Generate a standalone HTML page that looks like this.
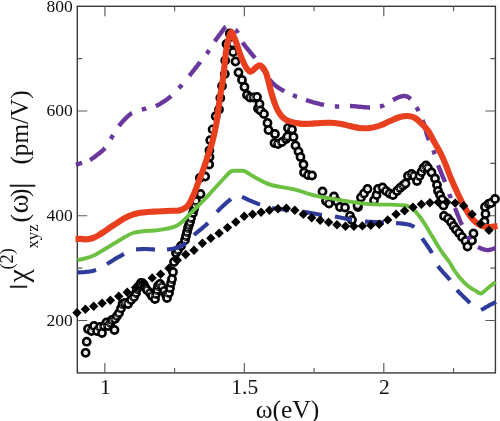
<!DOCTYPE html>
<html lang="en"><head><meta charset="utf-8"><title>chi2 spectrum</title>
<style>html,body{margin:0;padding:0;background:#fff}svg{display:block}text{font-family:"Liberation Serif","DejaVu Serif",serif;fill:#111}</style></head><body>
<svg width="500" height="421" viewBox="0 0 500 421">
<rect width="500" height="421" fill="#fff"/>
<g fill="none" stroke="#3a3a3a" stroke-width="1.4">
<rect x="77.30" y="6.30" width="418.10" height="366.60"/>
<path d="M104.90,372.90v-10M104.90,6.30v10M244.35,372.90v-10M244.35,6.30v10M383.80,372.90v-10M383.80,6.30v10M174.62,372.90v-5M174.62,6.30v5M314.07,372.90v-5M314.07,6.30v5M453.52,372.90v-5M453.52,6.30v5M77.30,320.53h10M495.40,320.53h-10M77.30,215.79h10M495.40,215.79h-10M77.30,111.04h10M495.40,111.04h-10M77.30,268.16h5M495.40,268.16h-5M77.30,163.41h5M495.40,163.41h-5M77.30,58.67h5M495.40,58.67h-5" stroke="#5a5a5a" stroke-width="1.15"/>
</g>
<g fill="#fff" stroke="#000" stroke-width="2.6">
<circle cx="85.6" cy="352.8" r="3.6"/>
<circle cx="86.7" cy="341.7" r="3.6"/>
<circle cx="88.0" cy="329.0" r="3.6"/>
<circle cx="91.5" cy="331.0" r="3.6"/>
<circle cx="94.0" cy="326.0" r="3.6"/>
<circle cx="97.0" cy="331.0" r="3.6"/>
<circle cx="100.0" cy="327.0" r="3.6"/>
<circle cx="102.0" cy="333.0" r="3.6"/>
<circle cx="104.0" cy="326.0" r="3.6"/>
<circle cx="106.5" cy="322.5" r="3.6"/>
<circle cx="108.0" cy="326.0" r="3.6"/>
<circle cx="110.5" cy="323.0" r="3.6"/>
<circle cx="112.0" cy="320.0" r="3.6"/>
<circle cx="114.5" cy="330.0" r="3.6"/>
<circle cx="115.0" cy="319.0" r="3.6"/>
<circle cx="117.0" cy="316.0" r="3.6"/>
<circle cx="119.0" cy="313.0" r="3.6"/>
<circle cx="121.0" cy="308.5" r="3.6"/>
<circle cx="122.5" cy="304.0" r="3.6"/>
<circle cx="125.0" cy="303.0" r="3.6"/>
<circle cx="128.0" cy="304.0" r="3.6"/>
<circle cx="131.0" cy="300.0" r="3.6"/>
<circle cx="134.0" cy="297.0" r="3.6"/>
<circle cx="136.0" cy="293.0" r="3.6"/>
<circle cx="137.0" cy="289.0" r="3.6"/>
<circle cx="139.0" cy="286.0" r="3.6"/>
<circle cx="141.0" cy="283.0" r="3.6"/>
<circle cx="143.0" cy="284.0" r="3.6"/>
<circle cx="145.0" cy="287.0" r="3.6"/>
<circle cx="147.0" cy="290.0" r="3.6"/>
<circle cx="150.0" cy="293.0" r="3.6"/>
<circle cx="152.0" cy="296.0" r="3.6"/>
<circle cx="155.0" cy="299.0" r="3.6"/>
<circle cx="156.0" cy="294.0" r="3.6"/>
<circle cx="157.0" cy="290.0" r="3.6"/>
<circle cx="158.0" cy="286.0" r="3.6"/>
<circle cx="160.0" cy="284.0" r="3.6"/>
<circle cx="162.0" cy="287.0" r="3.6"/>
<circle cx="164.0" cy="291.0" r="3.6"/>
<circle cx="166.0" cy="295.0" r="3.6"/>
<circle cx="167.0" cy="298.0" r="3.6"/>
<circle cx="169.0" cy="293.0" r="3.6"/>
<circle cx="170.0" cy="288.0" r="3.6"/>
<circle cx="171.0" cy="283.0" r="3.6"/>
<circle cx="172.0" cy="279.0" r="3.6"/>
<circle cx="173.0" cy="272.0" r="3.6"/>
<circle cx="174.0" cy="262.0" r="3.6"/>
<circle cx="176.0" cy="253.0" r="3.6"/>
<circle cx="178.0" cy="250.0" r="3.6"/>
<circle cx="181.0" cy="246.0" r="3.6"/>
<circle cx="185.0" cy="240.0" r="3.6"/>
<circle cx="186.0" cy="236.0" r="3.6"/>
<circle cx="187.0" cy="232.0" r="3.6"/>
<circle cx="188.0" cy="228.0" r="3.6"/>
<circle cx="189.0" cy="225.0" r="3.6"/>
<circle cx="190.0" cy="222.0" r="3.6"/>
<circle cx="191.0" cy="218.0" r="3.6"/>
<circle cx="193.0" cy="213.0" r="3.6"/>
<circle cx="194.0" cy="209.0" r="3.6"/>
<circle cx="195.0" cy="205.0" r="3.6"/>
<circle cx="196.0" cy="201.0" r="3.6"/>
<circle cx="200.5" cy="194.0" r="3.6"/>
<circle cx="199.8" cy="178.0" r="3.6"/>
<circle cx="205.2" cy="176.5" r="3.6"/>
<circle cx="209.2" cy="164.5" r="3.6"/>
<circle cx="209.5" cy="157.0" r="3.6"/>
<circle cx="209.4" cy="150.4" r="3.6"/>
<circle cx="210.2" cy="140.2" r="3.6"/>
<circle cx="212.6" cy="129.4" r="3.6"/>
<circle cx="215.7" cy="116.2" r="3.6"/>
<circle cx="219.0" cy="109.5" r="3.6"/>
<circle cx="220.3" cy="98.0" r="3.6"/>
<circle cx="222.0" cy="86.0" r="3.6"/>
<circle cx="224.8" cy="74.0" r="3.6"/>
<circle cx="225.2" cy="60.5" r="3.6"/>
<circle cx="226.5" cy="44.0" r="3.6"/>
<circle cx="229.8" cy="33.5" r="3.6"/>
<circle cx="232.6" cy="43.5" r="3.6"/>
<circle cx="233.1" cy="52.1" r="3.6"/>
<circle cx="235.5" cy="61.5" r="3.6"/>
<circle cx="238.5" cy="72.5" r="3.6"/>
<circle cx="242.0" cy="80.0" r="3.6"/>
<circle cx="244.5" cy="87.0" r="3.6"/>
<circle cx="247.0" cy="95.0" r="3.6"/>
<circle cx="250.0" cy="97.5" r="3.6"/>
<circle cx="253.5" cy="97.5" r="3.6"/>
<circle cx="257.0" cy="97.0" r="3.6"/>
<circle cx="258.0" cy="108.5" r="3.6"/>
<circle cx="259.5" cy="104.0" r="3.6"/>
<circle cx="260.5" cy="110.5" r="3.6"/>
<circle cx="264.0" cy="114.0" r="3.6"/>
<circle cx="267.5" cy="123.0" r="3.6"/>
<circle cx="268.5" cy="130.0" r="3.6"/>
<circle cx="275.0" cy="134.0" r="3.6"/>
<circle cx="274.5" cy="143.0" r="3.6"/>
<circle cx="278.0" cy="144.0" r="3.6"/>
<circle cx="282.0" cy="142.0" r="3.6"/>
<circle cx="286.0" cy="139.0" r="3.6"/>
<circle cx="287.5" cy="136.5" r="3.6"/>
<circle cx="288.0" cy="128.0" r="3.6"/>
<circle cx="292.0" cy="129.5" r="3.6"/>
<circle cx="293.5" cy="137.0" r="3.6"/>
<circle cx="295.5" cy="145.5" r="3.6"/>
<circle cx="298.5" cy="151.5" r="3.6"/>
<circle cx="300.5" cy="157.0" r="3.6"/>
<circle cx="303.5" cy="164.5" r="3.6"/>
<circle cx="304.0" cy="172.5" r="3.6"/>
<circle cx="308.0" cy="175.0" r="3.6"/>
<circle cx="312.0" cy="175.5" r="3.6"/>
<circle cx="322.5" cy="191.5" r="3.6"/>
<circle cx="326.0" cy="201.0" r="3.6"/>
<circle cx="329.0" cy="203.5" r="3.6"/>
<circle cx="334.0" cy="196.5" r="3.6"/>
<circle cx="337.0" cy="201.5" r="3.6"/>
<circle cx="340.0" cy="207.0" r="3.6"/>
<circle cx="345.0" cy="207.5" r="3.6"/>
<circle cx="350.0" cy="216.0" r="3.6"/>
<circle cx="352.0" cy="220.0" r="3.6"/>
<circle cx="358.0" cy="207.0" r="3.6"/>
<circle cx="357.5" cy="205.5" r="3.6"/>
<circle cx="361.0" cy="197.5" r="3.6"/>
<circle cx="364.0" cy="193.5" r="3.6"/>
<circle cx="367.5" cy="189.0" r="3.6"/>
<circle cx="374.0" cy="200.5" r="3.6"/>
<circle cx="376.5" cy="195.0" r="3.6"/>
<circle cx="378.0" cy="189.0" r="3.6"/>
<circle cx="382.5" cy="187.5" r="3.6"/>
<circle cx="386.0" cy="191.0" r="3.6"/>
<circle cx="389.5" cy="193.5" r="3.6"/>
<circle cx="393.0" cy="195.0" r="3.6"/>
<circle cx="397.0" cy="191.0" r="3.6"/>
<circle cx="400.0" cy="188.0" r="3.6"/>
<circle cx="403.0" cy="185.5" r="3.6"/>
<circle cx="405.5" cy="183.5" r="3.6"/>
<circle cx="408.0" cy="176.0" r="3.6"/>
<circle cx="411.5" cy="174.0" r="3.6"/>
<circle cx="414.0" cy="176.0" r="3.6"/>
<circle cx="417.0" cy="181.0" r="3.6"/>
<circle cx="419.5" cy="176.0" r="3.6"/>
<circle cx="421.5" cy="172.0" r="3.6"/>
<circle cx="423.5" cy="168.0" r="3.6"/>
<circle cx="426.0" cy="165.5" r="3.6"/>
<circle cx="428.0" cy="168.0" r="3.6"/>
<circle cx="431.5" cy="172.5" r="3.6"/>
<circle cx="435.0" cy="178.5" r="3.6"/>
<circle cx="437.0" cy="185.0" r="3.6"/>
<circle cx="438.0" cy="191.0" r="3.6"/>
<circle cx="440.0" cy="195.0" r="3.6"/>
<circle cx="442.0" cy="199.5" r="3.6"/>
<circle cx="443.5" cy="205.5" r="3.6"/>
<circle cx="444.0" cy="216.0" r="3.6"/>
<circle cx="448.0" cy="218.5" r="3.6"/>
<circle cx="451.0" cy="222.0" r="3.6"/>
<circle cx="453.5" cy="226.0" r="3.6"/>
<circle cx="456.0" cy="229.5" r="3.6"/>
<circle cx="459.0" cy="233.0" r="3.6"/>
<circle cx="462.0" cy="237.0" r="3.6"/>
<circle cx="465.5" cy="241.0" r="3.6"/>
<circle cx="467.5" cy="246.5" r="3.6"/>
<circle cx="472.0" cy="240.5" r="3.6"/>
<circle cx="473.5" cy="233.5" r="3.6"/>
<circle cx="484.5" cy="221.5" r="3.6"/>
<circle cx="485.5" cy="214.0" r="3.6"/>
<circle cx="485.0" cy="207.0" r="3.6"/>
<circle cx="488.5" cy="204.0" r="3.6"/>
<circle cx="491.0" cy="203.0" r="3.6"/>
<circle cx="495.0" cy="199.0" r="3.6"/>
</g>
<g fill="#b5b5b5">
<path d="M84.3,352.0h.8v.8h-.8zm1.7,-.3h.8v.8h-.8zm-.9,1.6h.8v.8h-.8zm-.2,-2.9h.7v.7h-.7z"/>
<path d="M85.4,340.9h.8v.8h-.8zm1.7,-.3h.8v.8h-.8zm-.9,1.6h.8v.8h-.8zm-.2,-2.9h.7v.7h-.7z"/>
<path d="M86.7,328.2h.8v.8h-.8zm1.7,-.3h.8v.8h-.8zm-.9,1.6h.8v.8h-.8zm-.2,-2.9h.7v.7h-.7z"/>
<path d="M90.2,330.2h.8v.8h-.8zm1.7,-.3h.8v.8h-.8zm-.9,1.6h.8v.8h-.8zm-.2,-2.9h.7v.7h-.7z"/>
<path d="M92.7,325.2h.8v.8h-.8zm1.7,-.3h.8v.8h-.8zm-.9,1.6h.8v.8h-.8zm-.2,-2.9h.7v.7h-.7z"/>
<path d="M95.7,330.2h.8v.8h-.8zm1.7,-.3h.8v.8h-.8zm-.9,1.6h.8v.8h-.8zm-.2,-2.9h.7v.7h-.7z"/>
<path d="M98.7,326.2h.8v.8h-.8zm1.7,-.3h.8v.8h-.8zm-.9,1.6h.8v.8h-.8zm-.2,-2.9h.7v.7h-.7z"/>
<path d="M100.7,332.2h.8v.8h-.8zm1.7,-.3h.8v.8h-.8zm-.9,1.6h.8v.8h-.8zm-.2,-2.9h.7v.7h-.7z"/>
<path d="M102.7,325.2h.8v.8h-.8zm1.7,-.3h.8v.8h-.8zm-.9,1.6h.8v.8h-.8zm-.2,-2.9h.7v.7h-.7z"/>
<path d="M105.2,321.7h.8v.8h-.8zm1.7,-.3h.8v.8h-.8zm-.9,1.6h.8v.8h-.8zm-.2,-2.9h.7v.7h-.7z"/>
<path d="M106.7,325.2h.8v.8h-.8zm1.7,-.3h.8v.8h-.8zm-.9,1.6h.8v.8h-.8zm-.2,-2.9h.7v.7h-.7z"/>
<path d="M109.2,322.2h.8v.8h-.8zm1.7,-.3h.8v.8h-.8zm-.9,1.6h.8v.8h-.8zm-.2,-2.9h.7v.7h-.7z"/>
<path d="M110.7,319.2h.8v.8h-.8zm1.7,-.3h.8v.8h-.8zm-.9,1.6h.8v.8h-.8zm-.2,-2.9h.7v.7h-.7z"/>
<path d="M113.2,329.2h.8v.8h-.8zm1.7,-.3h.8v.8h-.8zm-.9,1.6h.8v.8h-.8zm-.2,-2.9h.7v.7h-.7z"/>
<path d="M113.7,318.2h.8v.8h-.8zm1.7,-.3h.8v.8h-.8zm-.9,1.6h.8v.8h-.8zm-.2,-2.9h.7v.7h-.7z"/>
<path d="M115.7,315.2h.8v.8h-.8zm1.7,-.3h.8v.8h-.8zm-.9,1.6h.8v.8h-.8zm-.2,-2.9h.7v.7h-.7z"/>
<path d="M117.7,312.2h.8v.8h-.8zm1.7,-.3h.8v.8h-.8zm-.9,1.6h.8v.8h-.8zm-.2,-2.9h.7v.7h-.7z"/>
<path d="M119.7,307.7h.8v.8h-.8zm1.7,-.3h.8v.8h-.8zm-.9,1.6h.8v.8h-.8zm-.2,-2.9h.7v.7h-.7z"/>
<path d="M121.2,303.2h.8v.8h-.8zm1.7,-.3h.8v.8h-.8zm-.9,1.6h.8v.8h-.8zm-.2,-2.9h.7v.7h-.7z"/>
<path d="M123.7,302.2h.8v.8h-.8zm1.7,-.3h.8v.8h-.8zm-.9,1.6h.8v.8h-.8zm-.2,-2.9h.7v.7h-.7z"/>
<path d="M126.7,303.2h.8v.8h-.8zm1.7,-.3h.8v.8h-.8zm-.9,1.6h.8v.8h-.8zm-.2,-2.9h.7v.7h-.7z"/>
<path d="M129.7,299.2h.8v.8h-.8zm1.7,-.3h.8v.8h-.8zm-.9,1.6h.8v.8h-.8zm-.2,-2.9h.7v.7h-.7z"/>
<path d="M132.7,296.2h.8v.8h-.8zm1.7,-.3h.8v.8h-.8zm-.9,1.6h.8v.8h-.8zm-.2,-2.9h.7v.7h-.7z"/>
<path d="M134.7,292.2h.8v.8h-.8zm1.7,-.3h.8v.8h-.8zm-.9,1.6h.8v.8h-.8zm-.2,-2.9h.7v.7h-.7z"/>
<path d="M135.7,288.2h.8v.8h-.8zm1.7,-.3h.8v.8h-.8zm-.9,1.6h.8v.8h-.8zm-.2,-2.9h.7v.7h-.7z"/>
<path d="M137.7,285.2h.8v.8h-.8zm1.7,-.3h.8v.8h-.8zm-.9,1.6h.8v.8h-.8zm-.2,-2.9h.7v.7h-.7z"/>
<path d="M139.7,282.2h.8v.8h-.8zm1.7,-.3h.8v.8h-.8zm-.9,1.6h.8v.8h-.8zm-.2,-2.9h.7v.7h-.7z"/>
<path d="M141.7,283.2h.8v.8h-.8zm1.7,-.3h.8v.8h-.8zm-.9,1.6h.8v.8h-.8zm-.2,-2.9h.7v.7h-.7z"/>
<path d="M143.7,286.2h.8v.8h-.8zm1.7,-.3h.8v.8h-.8zm-.9,1.6h.8v.8h-.8zm-.2,-2.9h.7v.7h-.7z"/>
<path d="M145.7,289.2h.8v.8h-.8zm1.7,-.3h.8v.8h-.8zm-.9,1.6h.8v.8h-.8zm-.2,-2.9h.7v.7h-.7z"/>
<path d="M148.7,292.2h.8v.8h-.8zm1.7,-.3h.8v.8h-.8zm-.9,1.6h.8v.8h-.8zm-.2,-2.9h.7v.7h-.7z"/>
<path d="M150.7,295.2h.8v.8h-.8zm1.7,-.3h.8v.8h-.8zm-.9,1.6h.8v.8h-.8zm-.2,-2.9h.7v.7h-.7z"/>
<path d="M153.7,298.2h.8v.8h-.8zm1.7,-.3h.8v.8h-.8zm-.9,1.6h.8v.8h-.8zm-.2,-2.9h.7v.7h-.7z"/>
<path d="M154.7,293.2h.8v.8h-.8zm1.7,-.3h.8v.8h-.8zm-.9,1.6h.8v.8h-.8zm-.2,-2.9h.7v.7h-.7z"/>
<path d="M155.7,289.2h.8v.8h-.8zm1.7,-.3h.8v.8h-.8zm-.9,1.6h.8v.8h-.8zm-.2,-2.9h.7v.7h-.7z"/>
<path d="M156.7,285.2h.8v.8h-.8zm1.7,-.3h.8v.8h-.8zm-.9,1.6h.8v.8h-.8zm-.2,-2.9h.7v.7h-.7z"/>
<path d="M158.7,283.2h.8v.8h-.8zm1.7,-.3h.8v.8h-.8zm-.9,1.6h.8v.8h-.8zm-.2,-2.9h.7v.7h-.7z"/>
<path d="M160.7,286.2h.8v.8h-.8zm1.7,-.3h.8v.8h-.8zm-.9,1.6h.8v.8h-.8zm-.2,-2.9h.7v.7h-.7z"/>
<path d="M162.7,290.2h.8v.8h-.8zm1.7,-.3h.8v.8h-.8zm-.9,1.6h.8v.8h-.8zm-.2,-2.9h.7v.7h-.7z"/>
<path d="M164.7,294.2h.8v.8h-.8zm1.7,-.3h.8v.8h-.8zm-.9,1.6h.8v.8h-.8zm-.2,-2.9h.7v.7h-.7z"/>
<path d="M165.7,297.2h.8v.8h-.8zm1.7,-.3h.8v.8h-.8zm-.9,1.6h.8v.8h-.8zm-.2,-2.9h.7v.7h-.7z"/>
<path d="M167.7,292.2h.8v.8h-.8zm1.7,-.3h.8v.8h-.8zm-.9,1.6h.8v.8h-.8zm-.2,-2.9h.7v.7h-.7z"/>
<path d="M168.7,287.2h.8v.8h-.8zm1.7,-.3h.8v.8h-.8zm-.9,1.6h.8v.8h-.8zm-.2,-2.9h.7v.7h-.7z"/>
<path d="M169.7,282.2h.8v.8h-.8zm1.7,-.3h.8v.8h-.8zm-.9,1.6h.8v.8h-.8zm-.2,-2.9h.7v.7h-.7z"/>
<path d="M170.7,278.2h.8v.8h-.8zm1.7,-.3h.8v.8h-.8zm-.9,1.6h.8v.8h-.8zm-.2,-2.9h.7v.7h-.7z"/>
<path d="M171.7,271.2h.8v.8h-.8zm1.7,-.3h.8v.8h-.8zm-.9,1.6h.8v.8h-.8zm-.2,-2.9h.7v.7h-.7z"/>
<path d="M172.7,261.2h.8v.8h-.8zm1.7,-.3h.8v.8h-.8zm-.9,1.6h.8v.8h-.8zm-.2,-2.9h.7v.7h-.7z"/>
<path d="M174.7,252.2h.8v.8h-.8zm1.7,-.3h.8v.8h-.8zm-.9,1.6h.8v.8h-.8zm-.2,-2.9h.7v.7h-.7z"/>
<path d="M176.7,249.2h.8v.8h-.8zm1.7,-.3h.8v.8h-.8zm-.9,1.6h.8v.8h-.8zm-.2,-2.9h.7v.7h-.7z"/>
<path d="M179.7,245.2h.8v.8h-.8zm1.7,-.3h.8v.8h-.8zm-.9,1.6h.8v.8h-.8zm-.2,-2.9h.7v.7h-.7z"/>
<path d="M183.7,239.2h.8v.8h-.8zm1.7,-.3h.8v.8h-.8zm-.9,1.6h.8v.8h-.8zm-.2,-2.9h.7v.7h-.7z"/>
<path d="M184.7,235.2h.8v.8h-.8zm1.7,-.3h.8v.8h-.8zm-.9,1.6h.8v.8h-.8zm-.2,-2.9h.7v.7h-.7z"/>
<path d="M185.7,231.2h.8v.8h-.8zm1.7,-.3h.8v.8h-.8zm-.9,1.6h.8v.8h-.8zm-.2,-2.9h.7v.7h-.7z"/>
<path d="M186.7,227.2h.8v.8h-.8zm1.7,-.3h.8v.8h-.8zm-.9,1.6h.8v.8h-.8zm-.2,-2.9h.7v.7h-.7z"/>
<path d="M187.7,224.2h.8v.8h-.8zm1.7,-.3h.8v.8h-.8zm-.9,1.6h.8v.8h-.8zm-.2,-2.9h.7v.7h-.7z"/>
<path d="M188.7,221.2h.8v.8h-.8zm1.7,-.3h.8v.8h-.8zm-.9,1.6h.8v.8h-.8zm-.2,-2.9h.7v.7h-.7z"/>
<path d="M189.7,217.2h.8v.8h-.8zm1.7,-.3h.8v.8h-.8zm-.9,1.6h.8v.8h-.8zm-.2,-2.9h.7v.7h-.7z"/>
<path d="M191.7,212.2h.8v.8h-.8zm1.7,-.3h.8v.8h-.8zm-.9,1.6h.8v.8h-.8zm-.2,-2.9h.7v.7h-.7z"/>
<path d="M192.7,208.2h.8v.8h-.8zm1.7,-.3h.8v.8h-.8zm-.9,1.6h.8v.8h-.8zm-.2,-2.9h.7v.7h-.7z"/>
<path d="M193.7,204.2h.8v.8h-.8zm1.7,-.3h.8v.8h-.8zm-.9,1.6h.8v.8h-.8zm-.2,-2.9h.7v.7h-.7z"/>
<path d="M194.7,200.2h.8v.8h-.8zm1.7,-.3h.8v.8h-.8zm-.9,1.6h.8v.8h-.8zm-.2,-2.9h.7v.7h-.7z"/>
<path d="M199.2,193.2h.8v.8h-.8zm1.7,-.3h.8v.8h-.8zm-.9,1.6h.8v.8h-.8zm-.2,-2.9h.7v.7h-.7z"/>
<path d="M198.5,177.2h.8v.8h-.8zm1.7,-.3h.8v.8h-.8zm-.9,1.6h.8v.8h-.8zm-.2,-2.9h.7v.7h-.7z"/>
<path d="M203.9,175.7h.8v.8h-.8zm1.7,-.3h.8v.8h-.8zm-.9,1.6h.8v.8h-.8zm-.2,-2.9h.7v.7h-.7z"/>
<path d="M207.9,163.7h.8v.8h-.8zm1.7,-.3h.8v.8h-.8zm-.9,1.6h.8v.8h-.8zm-.2,-2.9h.7v.7h-.7z"/>
<path d="M208.2,156.2h.8v.8h-.8zm1.7,-.3h.8v.8h-.8zm-.9,1.6h.8v.8h-.8zm-.2,-2.9h.7v.7h-.7z"/>
<path d="M208.1,149.6h.8v.8h-.8zm1.7,-.3h.8v.8h-.8zm-.9,1.6h.8v.8h-.8zm-.2,-2.9h.7v.7h-.7z"/>
<path d="M208.9,139.4h.8v.8h-.8zm1.7,-.3h.8v.8h-.8zm-.9,1.6h.8v.8h-.8zm-.2,-2.9h.7v.7h-.7z"/>
<path d="M211.3,128.6h.8v.8h-.8zm1.7,-.3h.8v.8h-.8zm-.9,1.6h.8v.8h-.8zm-.2,-2.9h.7v.7h-.7z"/>
<path d="M214.4,115.4h.8v.8h-.8zm1.7,-.3h.8v.8h-.8zm-.9,1.6h.8v.8h-.8zm-.2,-2.9h.7v.7h-.7z"/>
<path d="M217.7,108.7h.8v.8h-.8zm1.7,-.3h.8v.8h-.8zm-.9,1.6h.8v.8h-.8zm-.2,-2.9h.7v.7h-.7z"/>
<path d="M219.0,97.2h.8v.8h-.8zm1.7,-.3h.8v.8h-.8zm-.9,1.6h.8v.8h-.8zm-.2,-2.9h.7v.7h-.7z"/>
<path d="M220.7,85.2h.8v.8h-.8zm1.7,-.3h.8v.8h-.8zm-.9,1.6h.8v.8h-.8zm-.2,-2.9h.7v.7h-.7z"/>
<path d="M223.4,73.2h.8v.8h-.8zm1.7,-.3h.8v.8h-.8zm-.9,1.6h.8v.8h-.8zm-.2,-2.9h.7v.7h-.7z"/>
<path d="M223.9,59.7h.8v.8h-.8zm1.7,-.3h.8v.8h-.8zm-.9,1.6h.8v.8h-.8zm-.2,-2.9h.7v.7h-.7z"/>
<path d="M225.2,43.2h.8v.8h-.8zm1.7,-.3h.8v.8h-.8zm-.9,1.6h.8v.8h-.8zm-.2,-2.9h.7v.7h-.7z"/>
<path d="M228.5,32.7h.8v.8h-.8zm1.7,-.3h.8v.8h-.8zm-.9,1.6h.8v.8h-.8zm-.2,-2.9h.7v.7h-.7z"/>
<path d="M231.3,42.7h.8v.8h-.8zm1.7,-.3h.8v.8h-.8zm-.9,1.6h.8v.8h-.8zm-.2,-2.9h.7v.7h-.7z"/>
<path d="M231.8,51.3h.8v.8h-.8zm1.7,-.3h.8v.8h-.8zm-.9,1.6h.8v.8h-.8zm-.2,-2.9h.7v.7h-.7z"/>
<path d="M234.2,60.7h.8v.8h-.8zm1.7,-.3h.8v.8h-.8zm-.9,1.6h.8v.8h-.8zm-.2,-2.9h.7v.7h-.7z"/>
<path d="M237.2,71.7h.8v.8h-.8zm1.7,-.3h.8v.8h-.8zm-.9,1.6h.8v.8h-.8zm-.2,-2.9h.7v.7h-.7z"/>
<path d="M240.7,79.2h.8v.8h-.8zm1.7,-.3h.8v.8h-.8zm-.9,1.6h.8v.8h-.8zm-.2,-2.9h.7v.7h-.7z"/>
<path d="M243.2,86.2h.8v.8h-.8zm1.7,-.3h.8v.8h-.8zm-.9,1.6h.8v.8h-.8zm-.2,-2.9h.7v.7h-.7z"/>
<path d="M245.7,94.2h.8v.8h-.8zm1.7,-.3h.8v.8h-.8zm-.9,1.6h.8v.8h-.8zm-.2,-2.9h.7v.7h-.7z"/>
<path d="M248.7,96.7h.8v.8h-.8zm1.7,-.3h.8v.8h-.8zm-.9,1.6h.8v.8h-.8zm-.2,-2.9h.7v.7h-.7z"/>
<path d="M252.2,96.7h.8v.8h-.8zm1.7,-.3h.8v.8h-.8zm-.9,1.6h.8v.8h-.8zm-.2,-2.9h.7v.7h-.7z"/>
<path d="M255.7,96.2h.8v.8h-.8zm1.7,-.3h.8v.8h-.8zm-.9,1.6h.8v.8h-.8zm-.2,-2.9h.7v.7h-.7z"/>
<path d="M256.7,107.7h.8v.8h-.8zm1.7,-.3h.8v.8h-.8zm-.9,1.6h.8v.8h-.8zm-.2,-2.9h.7v.7h-.7z"/>
<path d="M258.2,103.2h.8v.8h-.8zm1.7,-.3h.8v.8h-.8zm-.9,1.6h.8v.8h-.8zm-.2,-2.9h.7v.7h-.7z"/>
<path d="M259.2,109.7h.8v.8h-.8zm1.7,-.3h.8v.8h-.8zm-.9,1.6h.8v.8h-.8zm-.2,-2.9h.7v.7h-.7z"/>
<path d="M262.7,113.2h.8v.8h-.8zm1.7,-.3h.8v.8h-.8zm-.9,1.6h.8v.8h-.8zm-.2,-2.9h.7v.7h-.7z"/>
<path d="M266.2,122.2h.8v.8h-.8zm1.7,-.3h.8v.8h-.8zm-.9,1.6h.8v.8h-.8zm-.2,-2.9h.7v.7h-.7z"/>
<path d="M267.2,129.2h.8v.8h-.8zm1.7,-.3h.8v.8h-.8zm-.9,1.6h.8v.8h-.8zm-.2,-2.9h.7v.7h-.7z"/>
<path d="M273.7,133.2h.8v.8h-.8zm1.7,-.3h.8v.8h-.8zm-.9,1.6h.8v.8h-.8zm-.2,-2.9h.7v.7h-.7z"/>
<path d="M273.2,142.2h.8v.8h-.8zm1.7,-.3h.8v.8h-.8zm-.9,1.6h.8v.8h-.8zm-.2,-2.9h.7v.7h-.7z"/>
<path d="M276.7,143.2h.8v.8h-.8zm1.7,-.3h.8v.8h-.8zm-.9,1.6h.8v.8h-.8zm-.2,-2.9h.7v.7h-.7z"/>
<path d="M280.7,141.2h.8v.8h-.8zm1.7,-.3h.8v.8h-.8zm-.9,1.6h.8v.8h-.8zm-.2,-2.9h.7v.7h-.7z"/>
<path d="M284.7,138.2h.8v.8h-.8zm1.7,-.3h.8v.8h-.8zm-.9,1.6h.8v.8h-.8zm-.2,-2.9h.7v.7h-.7z"/>
<path d="M286.2,135.7h.8v.8h-.8zm1.7,-.3h.8v.8h-.8zm-.9,1.6h.8v.8h-.8zm-.2,-2.9h.7v.7h-.7z"/>
<path d="M286.7,127.2h.8v.8h-.8zm1.7,-.3h.8v.8h-.8zm-.9,1.6h.8v.8h-.8zm-.2,-2.9h.7v.7h-.7z"/>
<path d="M290.7,128.7h.8v.8h-.8zm1.7,-.3h.8v.8h-.8zm-.9,1.6h.8v.8h-.8zm-.2,-2.9h.7v.7h-.7z"/>
<path d="M292.2,136.2h.8v.8h-.8zm1.7,-.3h.8v.8h-.8zm-.9,1.6h.8v.8h-.8zm-.2,-2.9h.7v.7h-.7z"/>
<path d="M294.2,144.7h.8v.8h-.8zm1.7,-.3h.8v.8h-.8zm-.9,1.6h.8v.8h-.8zm-.2,-2.9h.7v.7h-.7z"/>
<path d="M297.2,150.7h.8v.8h-.8zm1.7,-.3h.8v.8h-.8zm-.9,1.6h.8v.8h-.8zm-.2,-2.9h.7v.7h-.7z"/>
<path d="M299.2,156.2h.8v.8h-.8zm1.7,-.3h.8v.8h-.8zm-.9,1.6h.8v.8h-.8zm-.2,-2.9h.7v.7h-.7z"/>
<path d="M302.2,163.7h.8v.8h-.8zm1.7,-.3h.8v.8h-.8zm-.9,1.6h.8v.8h-.8zm-.2,-2.9h.7v.7h-.7z"/>
<path d="M302.7,171.7h.8v.8h-.8zm1.7,-.3h.8v.8h-.8zm-.9,1.6h.8v.8h-.8zm-.2,-2.9h.7v.7h-.7z"/>
<path d="M306.7,174.2h.8v.8h-.8zm1.7,-.3h.8v.8h-.8zm-.9,1.6h.8v.8h-.8zm-.2,-2.9h.7v.7h-.7z"/>
<path d="M310.7,174.7h.8v.8h-.8zm1.7,-.3h.8v.8h-.8zm-.9,1.6h.8v.8h-.8zm-.2,-2.9h.7v.7h-.7z"/>
<path d="M321.2,190.7h.8v.8h-.8zm1.7,-.3h.8v.8h-.8zm-.9,1.6h.8v.8h-.8zm-.2,-2.9h.7v.7h-.7z"/>
<path d="M324.7,200.2h.8v.8h-.8zm1.7,-.3h.8v.8h-.8zm-.9,1.6h.8v.8h-.8zm-.2,-2.9h.7v.7h-.7z"/>
<path d="M327.7,202.7h.8v.8h-.8zm1.7,-.3h.8v.8h-.8zm-.9,1.6h.8v.8h-.8zm-.2,-2.9h.7v.7h-.7z"/>
<path d="M332.7,195.7h.8v.8h-.8zm1.7,-.3h.8v.8h-.8zm-.9,1.6h.8v.8h-.8zm-.2,-2.9h.7v.7h-.7z"/>
<path d="M335.7,200.7h.8v.8h-.8zm1.7,-.3h.8v.8h-.8zm-.9,1.6h.8v.8h-.8zm-.2,-2.9h.7v.7h-.7z"/>
<path d="M338.7,206.2h.8v.8h-.8zm1.7,-.3h.8v.8h-.8zm-.9,1.6h.8v.8h-.8zm-.2,-2.9h.7v.7h-.7z"/>
<path d="M343.7,206.7h.8v.8h-.8zm1.7,-.3h.8v.8h-.8zm-.9,1.6h.8v.8h-.8zm-.2,-2.9h.7v.7h-.7z"/>
<path d="M348.7,215.2h.8v.8h-.8zm1.7,-.3h.8v.8h-.8zm-.9,1.6h.8v.8h-.8zm-.2,-2.9h.7v.7h-.7z"/>
<path d="M350.7,219.2h.8v.8h-.8zm1.7,-.3h.8v.8h-.8zm-.9,1.6h.8v.8h-.8zm-.2,-2.9h.7v.7h-.7z"/>
<path d="M356.7,206.2h.8v.8h-.8zm1.7,-.3h.8v.8h-.8zm-.9,1.6h.8v.8h-.8zm-.2,-2.9h.7v.7h-.7z"/>
<path d="M356.2,204.7h.8v.8h-.8zm1.7,-.3h.8v.8h-.8zm-.9,1.6h.8v.8h-.8zm-.2,-2.9h.7v.7h-.7z"/>
<path d="M359.7,196.7h.8v.8h-.8zm1.7,-.3h.8v.8h-.8zm-.9,1.6h.8v.8h-.8zm-.2,-2.9h.7v.7h-.7z"/>
<path d="M362.7,192.7h.8v.8h-.8zm1.7,-.3h.8v.8h-.8zm-.9,1.6h.8v.8h-.8zm-.2,-2.9h.7v.7h-.7z"/>
<path d="M366.2,188.2h.8v.8h-.8zm1.7,-.3h.8v.8h-.8zm-.9,1.6h.8v.8h-.8zm-.2,-2.9h.7v.7h-.7z"/>
<path d="M372.7,199.7h.8v.8h-.8zm1.7,-.3h.8v.8h-.8zm-.9,1.6h.8v.8h-.8zm-.2,-2.9h.7v.7h-.7z"/>
<path d="M375.2,194.2h.8v.8h-.8zm1.7,-.3h.8v.8h-.8zm-.9,1.6h.8v.8h-.8zm-.2,-2.9h.7v.7h-.7z"/>
<path d="M376.7,188.2h.8v.8h-.8zm1.7,-.3h.8v.8h-.8zm-.9,1.6h.8v.8h-.8zm-.2,-2.9h.7v.7h-.7z"/>
<path d="M381.2,186.7h.8v.8h-.8zm1.7,-.3h.8v.8h-.8zm-.9,1.6h.8v.8h-.8zm-.2,-2.9h.7v.7h-.7z"/>
<path d="M384.7,190.2h.8v.8h-.8zm1.7,-.3h.8v.8h-.8zm-.9,1.6h.8v.8h-.8zm-.2,-2.9h.7v.7h-.7z"/>
<path d="M388.2,192.7h.8v.8h-.8zm1.7,-.3h.8v.8h-.8zm-.9,1.6h.8v.8h-.8zm-.2,-2.9h.7v.7h-.7z"/>
<path d="M391.7,194.2h.8v.8h-.8zm1.7,-.3h.8v.8h-.8zm-.9,1.6h.8v.8h-.8zm-.2,-2.9h.7v.7h-.7z"/>
<path d="M395.7,190.2h.8v.8h-.8zm1.7,-.3h.8v.8h-.8zm-.9,1.6h.8v.8h-.8zm-.2,-2.9h.7v.7h-.7z"/>
<path d="M398.7,187.2h.8v.8h-.8zm1.7,-.3h.8v.8h-.8zm-.9,1.6h.8v.8h-.8zm-.2,-2.9h.7v.7h-.7z"/>
<path d="M401.7,184.7h.8v.8h-.8zm1.7,-.3h.8v.8h-.8zm-.9,1.6h.8v.8h-.8zm-.2,-2.9h.7v.7h-.7z"/>
<path d="M404.2,182.7h.8v.8h-.8zm1.7,-.3h.8v.8h-.8zm-.9,1.6h.8v.8h-.8zm-.2,-2.9h.7v.7h-.7z"/>
<path d="M406.7,175.2h.8v.8h-.8zm1.7,-.3h.8v.8h-.8zm-.9,1.6h.8v.8h-.8zm-.2,-2.9h.7v.7h-.7z"/>
<path d="M410.2,173.2h.8v.8h-.8zm1.7,-.3h.8v.8h-.8zm-.9,1.6h.8v.8h-.8zm-.2,-2.9h.7v.7h-.7z"/>
<path d="M412.7,175.2h.8v.8h-.8zm1.7,-.3h.8v.8h-.8zm-.9,1.6h.8v.8h-.8zm-.2,-2.9h.7v.7h-.7z"/>
<path d="M415.7,180.2h.8v.8h-.8zm1.7,-.3h.8v.8h-.8zm-.9,1.6h.8v.8h-.8zm-.2,-2.9h.7v.7h-.7z"/>
<path d="M418.2,175.2h.8v.8h-.8zm1.7,-.3h.8v.8h-.8zm-.9,1.6h.8v.8h-.8zm-.2,-2.9h.7v.7h-.7z"/>
<path d="M420.2,171.2h.8v.8h-.8zm1.7,-.3h.8v.8h-.8zm-.9,1.6h.8v.8h-.8zm-.2,-2.9h.7v.7h-.7z"/>
<path d="M422.2,167.2h.8v.8h-.8zm1.7,-.3h.8v.8h-.8zm-.9,1.6h.8v.8h-.8zm-.2,-2.9h.7v.7h-.7z"/>
<path d="M424.7,164.7h.8v.8h-.8zm1.7,-.3h.8v.8h-.8zm-.9,1.6h.8v.8h-.8zm-.2,-2.9h.7v.7h-.7z"/>
<path d="M426.7,167.2h.8v.8h-.8zm1.7,-.3h.8v.8h-.8zm-.9,1.6h.8v.8h-.8zm-.2,-2.9h.7v.7h-.7z"/>
<path d="M430.2,171.7h.8v.8h-.8zm1.7,-.3h.8v.8h-.8zm-.9,1.6h.8v.8h-.8zm-.2,-2.9h.7v.7h-.7z"/>
<path d="M433.7,177.7h.8v.8h-.8zm1.7,-.3h.8v.8h-.8zm-.9,1.6h.8v.8h-.8zm-.2,-2.9h.7v.7h-.7z"/>
<path d="M435.7,184.2h.8v.8h-.8zm1.7,-.3h.8v.8h-.8zm-.9,1.6h.8v.8h-.8zm-.2,-2.9h.7v.7h-.7z"/>
<path d="M436.7,190.2h.8v.8h-.8zm1.7,-.3h.8v.8h-.8zm-.9,1.6h.8v.8h-.8zm-.2,-2.9h.7v.7h-.7z"/>
<path d="M438.7,194.2h.8v.8h-.8zm1.7,-.3h.8v.8h-.8zm-.9,1.6h.8v.8h-.8zm-.2,-2.9h.7v.7h-.7z"/>
<path d="M440.7,198.7h.8v.8h-.8zm1.7,-.3h.8v.8h-.8zm-.9,1.6h.8v.8h-.8zm-.2,-2.9h.7v.7h-.7z"/>
<path d="M442.2,204.7h.8v.8h-.8zm1.7,-.3h.8v.8h-.8zm-.9,1.6h.8v.8h-.8zm-.2,-2.9h.7v.7h-.7z"/>
<path d="M442.7,215.2h.8v.8h-.8zm1.7,-.3h.8v.8h-.8zm-.9,1.6h.8v.8h-.8zm-.2,-2.9h.7v.7h-.7z"/>
<path d="M446.7,217.7h.8v.8h-.8zm1.7,-.3h.8v.8h-.8zm-.9,1.6h.8v.8h-.8zm-.2,-2.9h.7v.7h-.7z"/>
<path d="M449.7,221.2h.8v.8h-.8zm1.7,-.3h.8v.8h-.8zm-.9,1.6h.8v.8h-.8zm-.2,-2.9h.7v.7h-.7z"/>
<path d="M452.2,225.2h.8v.8h-.8zm1.7,-.3h.8v.8h-.8zm-.9,1.6h.8v.8h-.8zm-.2,-2.9h.7v.7h-.7z"/>
<path d="M454.7,228.7h.8v.8h-.8zm1.7,-.3h.8v.8h-.8zm-.9,1.6h.8v.8h-.8zm-.2,-2.9h.7v.7h-.7z"/>
<path d="M457.7,232.2h.8v.8h-.8zm1.7,-.3h.8v.8h-.8zm-.9,1.6h.8v.8h-.8zm-.2,-2.9h.7v.7h-.7z"/>
<path d="M460.7,236.2h.8v.8h-.8zm1.7,-.3h.8v.8h-.8zm-.9,1.6h.8v.8h-.8zm-.2,-2.9h.7v.7h-.7z"/>
<path d="M464.2,240.2h.8v.8h-.8zm1.7,-.3h.8v.8h-.8zm-.9,1.6h.8v.8h-.8zm-.2,-2.9h.7v.7h-.7z"/>
<path d="M466.2,245.7h.8v.8h-.8zm1.7,-.3h.8v.8h-.8zm-.9,1.6h.8v.8h-.8zm-.2,-2.9h.7v.7h-.7z"/>
<path d="M470.7,239.7h.8v.8h-.8zm1.7,-.3h.8v.8h-.8zm-.9,1.6h.8v.8h-.8zm-.2,-2.9h.7v.7h-.7z"/>
<path d="M472.2,232.7h.8v.8h-.8zm1.7,-.3h.8v.8h-.8zm-.9,1.6h.8v.8h-.8zm-.2,-2.9h.7v.7h-.7z"/>
<path d="M483.2,220.7h.8v.8h-.8zm1.7,-.3h.8v.8h-.8zm-.9,1.6h.8v.8h-.8zm-.2,-2.9h.7v.7h-.7z"/>
<path d="M484.2,213.2h.8v.8h-.8zm1.7,-.3h.8v.8h-.8zm-.9,1.6h.8v.8h-.8zm-.2,-2.9h.7v.7h-.7z"/>
<path d="M483.7,206.2h.8v.8h-.8zm1.7,-.3h.8v.8h-.8zm-.9,1.6h.8v.8h-.8zm-.2,-2.9h.7v.7h-.7z"/>
<path d="M487.2,203.2h.8v.8h-.8zm1.7,-.3h.8v.8h-.8zm-.9,1.6h.8v.8h-.8zm-.2,-2.9h.7v.7h-.7z"/>
<path d="M489.7,202.2h.8v.8h-.8zm1.7,-.3h.8v.8h-.8zm-.9,1.6h.8v.8h-.8zm-.2,-2.9h.7v.7h-.7z"/>
<path d="M493.7,198.2h.8v.8h-.8zm1.7,-.3h.8v.8h-.8zm-.9,1.6h.8v.8h-.8zm-.2,-2.9h.7v.7h-.7z"/>
</g>
<g fill="none" stroke-linejoin="round">
<path d="M75.9,164.6L77.0,164.3L78.0,164.1L78.9,163.8L79.9,163.5L80.9,163.2L82.0,162.9M90.0,160.0L90.7,159.6L91.5,159.1L92.3,158.5L93.1,158.0L93.9,157.4L94.8,156.7L95.7,156.0L96.6,155.4L97.4,154.7L98.1,154.1L98.9,153.6L99.6,153.0L100.4,152.3L101.2,151.7L102.0,151.0L102.8,150.3L103.5,149.6L104.3,148.8L105.0,148.0M119.0,126.0L119.7,125.1L120.3,124.2L121.0,123.4L121.7,122.6L122.4,121.8L123.1,121.1L123.7,120.3L124.4,119.6L125.1,119.0L125.7,118.3L126.4,117.6L127.2,116.8L128.0,116.1L128.8,115.4L129.5,114.8L130.3,114.2L131.0,113.6L131.8,113.1L132.0,113.0M155.7,106.1L156.6,105.7L157.5,105.3L158.3,104.8L159.2,104.3L160.1,103.8L161.0,103.3L161.9,102.7L162.8,102.1L163.6,101.6L164.4,101.1L165.2,100.6L165.9,100.1L166.7,99.6L167.5,99.0L168.4,98.4L169.3,97.6L170.2,96.9L170.8,96.3L171.1,96.0M189.3,75.8L190.0,75.0L190.6,74.3L191.2,73.5L191.8,72.7L192.5,71.9L193.1,71.1L193.8,70.2L194.5,69.4L195.1,68.5L195.8,67.7L196.4,66.9L197.1,66.0L197.7,65.2L198.3,64.4L198.9,63.7L199.5,62.9L200.1,62.2L200.2,62.0M214.7,41.4L215.3,40.6L215.9,39.7L216.6,38.8L217.2,37.9L217.9,37.0L218.5,36.1L219.1,35.3L219.8,34.5L220.4,33.7L220.9,33.0L221.4,32.3L221.9,31.6L222.7,30.6L223.4,29.6L223.9,28.8L224.4,28.2L224.9,27.6L225.7,26.9L225.9,26.8M242.6,42.4L243.2,43.3L243.7,44.1L244.3,44.9L244.9,45.7L245.6,46.5L246.3,47.4L247.0,48.3L247.7,49.1L248.3,49.9L249.0,50.7L249.6,51.5L250.2,52.2L250.9,53.1L251.5,53.8L252.1,54.5L252.7,55.2L253.3,55.9L253.9,56.6L254.6,57.5L255.0,58.0M269.4,79.5L270.1,80.3L270.8,81.1L271.5,81.9L272.2,82.6L272.9,83.3L273.6,84.0L274.3,84.6L275.1,85.2L275.8,85.8L276.6,86.5L277.4,87.1L278.2,87.6L279.0,88.2L279.9,88.7L280.7,89.2L281.6,89.7L282.5,90.2L283.5,90.7L284.4,91.2M306.0,100.0L306.8,100.3L307.7,100.5L308.6,100.8L309.5,101.1L310.5,101.4L311.5,101.7L312.5,102.0L313.6,102.3L314.6,102.6L315.7,102.9L316.7,103.2L317.8,103.5L318.8,103.7L319.8,104.0L320.8,104.3L321.8,104.5L322.7,104.7L323.6,104.9L324.0,105.0M350.0,106.0L350.9,106.0L351.8,106.1L352.7,106.1L353.7,106.2L354.7,106.3L355.7,106.4L356.8,106.5L357.9,106.6L359.0,106.7L360.1,106.8L361.2,106.9L362.2,107.0L363.3,107.1L364.4,107.2L365.4,107.3L366.4,107.4L367.4,107.4L368.3,107.5L369.2,107.5L370.0,107.5M393.0,100.0L394.3,99.3L395.3,98.8L396.1,98.4L396.8,98.0L397.6,97.7L398.5,97.3L399.5,96.9L400.6,96.6L401.6,96.3L402.5,96.1L403.6,96.0L404.6,96.0L405.6,96.1L406.6,96.4L407.5,96.7L408.3,97.1L409.1,97.7L410.0,98.5L410.6,99.1M422.6,120.0L423.0,121.1L423.4,122.1L423.7,123.0L424.0,123.9L424.3,124.8L424.6,125.8L424.8,126.7L425.1,127.6L425.3,128.6L425.6,129.6L425.8,130.5L426.1,131.5L426.3,132.5L426.6,133.5L426.9,134.5L427.2,135.5L427.6,136.5L427.9,137.4L428.3,138.3L428.6,139.3L429.0,140.2M438.1,165.2L438.4,166.1L438.7,166.9L439.1,167.8L439.5,168.7L439.9,169.7L440.3,170.6L440.7,171.6L441.1,172.6L441.5,173.6L441.9,174.5L442.3,175.5L442.7,176.5L443.1,177.5L443.5,178.4L443.9,179.3L444.3,180.2L444.7,181.1L445.0,182.0M455.0,208.0L455.3,208.8L455.7,209.7L456.0,210.6L456.4,211.5L456.8,212.4L457.2,213.4L457.5,214.3L457.9,215.3L458.3,216.3L458.7,217.3L459.1,218.3L459.5,219.3L459.9,220.3L460.3,221.2L460.7,222.1L461.1,223.1L461.5,223.9L461.9,224.8L462.0,225.0M478.0,247.0L478.8,247.4L479.7,247.8L480.7,248.3L481.7,248.7L482.8,249.1L483.8,249.4L484.7,249.7L485.6,249.9L486.6,250.1L487.7,250.1L488.7,250.0L489.6,249.8L490.5,249.6L491.5,249.4L492.7,249.0L493.8,248.7L494.8,248.3L495.6,248.0L495.7,248.0M110.8,139.0L111.1,138.5L111.3,138.1L111.6,137.6L111.9,137.2L112.1,136.8L112.4,136.4L112.7,135.9L112.9,135.5L113.2,135.1M141.8,109.5L142.2,109.4L142.8,109.3L143.2,109.2L143.8,109.1L144.3,108.9L144.8,108.8L145.2,108.7L145.7,108.6L146.2,108.4M178.9,88.2L179.3,87.8L179.6,87.4L180.0,87.0L180.3,86.6L180.6,86.3L181.0,85.9L181.3,85.6L181.6,85.2L181.9,84.8M206.7,53.8L207.0,53.5L207.2,53.1L207.5,52.6L207.8,52.2L208.1,51.8L208.4,51.4L208.7,51.0L208.9,50.6L209.2,50.2M235.3,29.7L235.7,30.0L236.1,30.4L236.4,30.8L236.8,31.3L237.1,31.7L237.4,32.0L237.6,32.4L237.9,32.9L238.0,33.1M261.1,66.7L261.4,67.1L261.7,67.6L262.0,68.0L262.3,68.4L262.5,68.8L262.8,69.2L263.1,69.7L263.3,70.1L263.6,70.6M292.9,95.1L293.4,95.3L293.8,95.5L294.3,95.7L294.8,95.9L295.2,96.1L295.7,96.3L296.2,96.5L296.6,96.7L297.0,96.8M334.8,106.4L335.3,106.4L335.8,106.4L336.3,106.5L336.8,106.5L337.2,106.5L337.7,106.5L338.2,106.5L338.7,106.5L339.2,106.5M379.9,106.6L380.4,106.5L380.8,106.4L381.3,106.2L381.8,106.1L382.2,105.9L382.7,105.8L383.2,105.6L383.6,105.4L384.1,105.1M416.5,107.1L416.8,107.6L417.0,108.1L417.3,108.6L417.6,109.1L417.9,109.7L418.1,110.2L418.3,110.6L418.5,110.9L418.6,111.1M433.3,150.2L433.5,150.7L433.7,151.1L433.8,151.6L434.0,152.0L434.2,152.5L434.4,153.0L434.5,153.5L434.7,154.0L434.8,154.3M449.3,194.0L449.4,194.4L449.6,194.9L449.7,195.3L449.9,195.8L450.1,196.2L450.3,196.7L450.5,197.2L450.7,197.7L450.8,198.1M467.9,236.1L468.1,236.5L468.3,236.9L468.5,237.2L468.7,237.5L468.9,237.8L469.2,238.3L469.6,239.0L470.0,239.5L470.1,239.8" stroke="#6a389c" stroke-width="4.4"/>
<path d="M77.5,272.5L78.1,272.5L78.9,272.4L79.8,272.4L80.9,272.3L82.0,272.3L83.2,272.2L84.4,272.1L85.4,271.9L86.3,271.9L87.3,271.8L88.2,271.7L89.2,271.6L90.2,271.4L91.3,271.3L92.3,271.1L93.4,270.8L94.5,270.5L95.4,270.1L96.1,269.9M107.0,264.0L108.0,263.4L109.0,262.8L109.9,262.3L110.7,261.7L111.5,261.2L112.3,260.7L113.1,260.2L113.9,259.7L114.8,259.1L115.6,258.6L116.5,258.1L117.4,257.6L118.3,257.1L119.3,256.6L120.2,256.1L121.1,255.6L122.0,255.1L122.8,254.6L123.6,254.2L124.0,254.0M136.0,249.5L136.9,249.4L137.8,249.3L138.7,249.2L139.7,249.2L140.8,249.1L141.8,249.1L142.9,249.0L143.9,249.0L145.0,249.0L146.0,249.0L146.9,249.0L147.9,249.1L148.8,249.2L149.8,249.2L150.8,249.3L151.8,249.4L152.9,249.4L153.9,249.5L155.0,249.5M167.0,249.5L168.1,249.4L169.2,249.3L170.2,249.2L171.2,249.1L172.1,249.0L173.0,248.8L174.0,248.6L175.0,248.3L176.0,248.0L176.9,247.7L177.8,247.3L178.7,247.0L179.6,246.6L180.6,246.1L181.5,245.7L182.5,245.2L183.4,244.7L184.3,244.1L185.2,243.6L186.0,243.0M194.0,235.0L194.6,234.4L195.3,233.9L196.0,233.2L196.8,232.6L197.5,232.0L198.3,231.3L199.2,230.6L200.0,230.0L200.8,229.3L201.7,228.6L202.5,227.9L203.3,227.2L204.2,226.5L205.0,225.8L205.7,225.1L206.5,224.5L207.2,223.8L207.8,223.2L208.0,223.0M217.0,212.0L217.8,211.1L218.6,210.3L219.3,209.5L220.0,208.8L220.7,208.1L221.4,207.4L222.1,206.8L222.8,206.1L223.5,205.5L224.2,204.8L225.0,204.1L225.8,203.4L226.6,202.6L227.4,201.9L228.2,201.2L229.0,200.6L229.8,200.0L230.5,199.4L231.0,199.0M242.0,197.0L242.8,197.3L243.7,197.6L244.6,198.0L245.5,198.5L246.5,198.9L247.4,199.4L248.4,199.8L249.5,200.3L250.4,200.7L251.3,201.0L252.1,201.4L253.0,201.8L253.9,202.2L254.9,202.5L255.8,202.9L256.8,203.3L257.7,203.7L258.7,204.1L259.7,204.4L260.0,204.5M272.0,208.0L272.9,208.2L273.8,208.3L274.7,208.5L275.7,208.6L276.7,208.7L277.7,208.9L278.7,209.0L279.7,209.1L280.7,209.2L281.8,209.3L282.8,209.4L283.8,209.5L284.9,209.6L285.9,209.8L287.0,209.9L288.0,210.0L289.0,210.1M304.0,211.9L305.0,212.0L306.0,212.2L307.0,212.3L308.0,212.5L309.0,212.7L310.0,212.8L311.1,213.0L312.1,213.2L313.1,213.4L314.1,213.6L315.1,213.8L316.1,214.0L317.1,214.2L318.1,214.3L319.0,214.5L320.0,214.7L320.9,214.8L321.8,215.0L322.0,215.0M335.0,216.5L335.9,216.7L336.8,216.8L337.8,217.0L338.8,217.2L339.8,217.4L340.8,217.6L341.8,217.9L342.8,218.1L343.9,218.3L344.9,218.6L346.0,218.8L347.0,219.0L348.0,219.2L349.0,219.4L350.0,219.6L350.9,219.8L351.8,220.0L352.0,220.0M365.0,221.5L365.9,221.6L366.8,221.6L367.7,221.7L368.7,221.8L369.7,221.8L370.8,221.9L371.9,221.9L372.9,222.0L374.0,222.0L375.1,222.1L376.2,222.1L377.3,222.2L378.3,222.2L379.3,222.3L380.4,222.3L381.3,222.4L382.3,222.4L383.2,222.5L384.0,222.5M396.0,223.0L397.0,223.1L398.1,223.2L399.1,223.3L400.2,223.4L401.3,223.5L402.4,223.6L403.4,223.8L404.4,223.9L405.4,224.0L406.3,224.2L407.2,224.3L408.0,224.5L409.3,224.8L410.4,225.1L411.3,225.4L412.1,225.8L412.9,226.2L413.6,226.7L414.2,227.2M422.2,238.3L422.6,238.9L423.1,239.6L423.6,240.4L424.2,241.2L424.7,242.0L425.3,242.8L425.9,243.7L426.6,244.6L427.2,245.5L427.8,246.4L428.4,247.4L429.0,248.3L429.6,249.2L430.2,250.1L430.8,250.9L431.3,251.8L431.8,252.6L432.0,253.0M438.0,266.0L438.5,266.7L439.1,267.5L439.7,268.3L440.3,269.1L441.0,269.9L441.7,270.7L442.4,271.5L443.1,272.3L443.8,273.1L444.6,273.9L445.3,274.7L446.0,275.5L446.7,276.2L447.4,277.0L448.1,277.7L448.7,278.5L449.3,279.2L449.9,279.8L450.0,280.0M457.0,290.0L457.6,290.7L458.2,291.3L458.9,292.1L459.6,292.8L460.3,293.6L461.1,294.3L461.9,295.1L462.7,295.9L463.5,296.7L464.3,297.5L465.1,298.3L465.9,299.0L466.7,299.8L467.4,300.5L468.1,301.1L468.7,301.8L469.3,302.3L469.9,302.9L470.0,303.0M481.1,310.0L482.0,309.5L483.0,309.0L483.8,308.6L484.6,308.1L485.4,307.6L486.2,307.0L487.2,306.5L488.2,305.9L489.1,305.4L490.0,304.9L491.1,304.4L492.2,303.8L493.2,303.3L494.1,302.8L495.0,302.4L495.6,302.1L495.7,302.0" stroke="#2e3b9b" stroke-width="4.1"/>
<path d="M77.5,260.0C78.8,259.8 82.1,259.3 85.0,258.5C87.9,257.7 91.7,256.6 95.0,255.0C98.3,253.4 101.7,251.0 105.0,249.0C108.3,247.0 111.7,245.0 115.0,243.0C118.3,241.0 122.0,238.7 125.0,237.0C128.0,235.3 129.7,234.0 133.0,233.0C136.3,232.0 141.3,231.4 145.0,231.0C148.7,230.6 151.7,230.8 155.0,230.5C158.3,230.2 162.5,229.4 165.0,229.0C167.5,228.6 168.2,228.5 170.0,228.0C171.8,227.5 174.0,227.0 176.0,226.0C178.0,225.0 179.7,224.0 182.0,222.0C184.3,220.0 187.3,216.7 190.0,214.0C192.7,211.3 195.5,208.5 198.0,206.0C200.5,203.5 202.2,202.0 205.0,199.0C207.8,196.0 211.8,191.4 215.0,188.0C218.2,184.6 221.8,180.7 224.0,178.3C226.2,175.9 227.3,174.7 228.5,173.5C229.7,172.3 230.1,171.8 231.0,171.4C231.9,171.0 232.5,170.9 234.0,170.8C235.5,170.7 238.3,170.8 240.0,170.8C241.7,170.8 242.8,170.7 244.0,171.0C245.2,171.3 246.0,171.9 247.0,172.5C248.0,173.1 248.2,173.2 250.0,174.3C251.8,175.4 255.3,177.6 258.0,179.0C260.7,180.4 263.5,181.9 266.0,183.0C268.5,184.1 269.8,184.7 273.0,185.5C276.2,186.3 281.3,186.9 285.0,187.6C288.7,188.3 291.7,188.8 295.0,189.6C298.3,190.4 301.7,191.6 305.0,192.6C308.3,193.6 311.7,194.8 315.0,195.6C318.3,196.4 321.7,197.0 325.0,197.6C328.3,198.2 332.5,198.7 335.0,199.1C337.5,199.5 337.5,199.7 340.0,200.1C342.5,200.5 346.7,201.1 350.0,201.6C353.3,202.1 356.7,202.7 360.0,203.1C363.3,203.5 366.7,203.8 370.0,204.1C373.3,204.3 376.7,204.5 380.0,204.6C383.3,204.7 386.7,204.5 390.0,204.6C393.3,204.7 397.0,204.9 400.0,205.1C403.0,205.3 405.7,205.2 408.0,206.0C410.3,206.8 412.0,208.2 414.0,210.0C416.0,211.8 418.0,214.3 420.0,217.0C422.0,219.7 424.0,222.8 426.0,226.0C428.0,229.2 430.0,232.7 432.0,236.0C434.0,239.3 436.0,242.8 438.0,246.0C440.0,249.2 442.0,252.2 444.0,255.0C446.0,257.8 448.3,260.5 450.0,263.0C451.7,265.5 452.3,267.5 454.0,270.0C455.7,272.5 457.7,275.3 460.0,278.0C462.3,280.7 465.3,283.8 468.0,286.0C470.7,288.2 473.8,289.8 476.0,291.0C478.2,292.2 479.0,294.0 481.0,293.5C483.0,293.0 485.6,289.9 488.0,288.0C490.4,286.1 494.4,283.0 495.7,282.0" stroke="#6cc143" stroke-width="3.9"/>
<path d="M75.5,239.0C76.4,239.0 79.1,238.8 81.0,238.9C82.9,239.0 85.0,239.5 87.0,239.3C89.0,239.2 91.0,238.7 93.0,238.0C95.0,237.3 97.0,236.2 99.0,235.0C101.0,233.8 103.0,232.3 105.0,231.0C107.0,229.7 109.0,228.2 111.0,226.9C113.0,225.6 115.0,224.3 117.0,223.0C119.0,221.7 121.2,220.2 123.0,219.1C124.8,218.0 126.4,217.2 128.0,216.5C129.6,215.8 131.1,215.1 132.6,214.6C134.1,214.1 135.4,213.8 137.0,213.5C138.6,213.2 140.2,212.8 142.0,212.5C143.8,212.2 146.0,212.2 148.0,212.0C150.0,211.8 151.0,211.8 154.0,211.6C157.0,211.4 162.0,211.2 166.0,211.0C170.0,210.8 175.3,210.8 178.0,210.6C180.7,210.3 180.5,210.2 182.0,209.5C183.5,208.8 185.6,207.8 187.0,206.5C188.4,205.2 189.3,203.8 190.5,201.5C191.7,199.2 193.1,196.2 194.4,193.0C195.7,189.8 197.0,186.0 198.5,182.0C200.0,178.0 201.9,173.2 203.4,169.0C204.9,164.8 206.2,161.0 207.5,157.0C208.8,153.0 210.4,148.7 211.5,145.0C212.6,141.3 213.2,138.5 214.0,135.0C214.8,131.5 215.6,127.8 216.3,124.0C217.0,120.2 217.4,116.0 218.0,112.0C218.6,108.0 219.0,104.0 219.6,100.0C220.2,96.0 220.9,91.5 221.5,88.0C222.1,84.5 222.4,83.5 223.0,79.0C223.6,74.5 224.5,65.8 225.0,61.0C225.5,56.2 225.7,53.2 226.2,50.0C226.7,46.8 227.4,44.0 228.0,41.5C228.6,39.0 229.3,36.5 229.8,34.9C230.3,33.3 230.7,32.0 231.2,31.9C231.7,31.8 232.0,32.8 232.8,34.5C233.6,36.2 234.9,38.8 236.1,42.0C237.3,45.2 238.6,50.2 240.0,54.0C241.4,57.8 243.2,61.9 244.5,64.5C245.8,67.1 246.6,68.3 247.5,69.5C248.4,70.7 249.3,71.5 250.2,71.6C251.1,71.7 251.9,71.0 253.0,70.2C254.1,69.4 255.4,67.8 256.5,67.0C257.6,66.2 258.5,65.4 259.5,65.4C260.5,65.4 261.4,65.8 262.5,67.0C263.6,68.2 264.9,70.5 265.8,72.5C266.7,74.5 267.2,76.8 267.8,79.0C268.4,81.2 269.0,83.5 269.6,86.0C270.2,88.5 270.7,90.7 271.7,94.0C272.7,97.3 274.5,102.9 275.7,106.0C276.9,109.1 277.8,110.6 279.0,112.5C280.2,114.4 281.2,116.1 283.0,117.6C284.8,119.1 287.2,120.5 290.0,121.5C292.8,122.5 296.7,123.2 300.0,123.6C303.3,124.0 306.7,123.9 310.0,123.8C313.3,123.7 316.7,123.2 320.0,123.0C323.3,122.8 326.7,122.7 330.0,122.8C333.3,122.9 336.7,123.3 340.0,123.8C343.3,124.3 346.7,125.3 350.0,126.0C353.3,126.7 356.7,127.7 360.0,128.0C363.3,128.3 366.7,128.4 370.0,128.0C373.3,127.6 376.7,126.7 380.0,125.5C383.3,124.3 386.7,122.4 390.0,121.0C393.3,119.6 397.0,117.8 400.0,117.0C403.0,116.2 405.5,115.8 408.0,116.0C410.5,116.2 412.7,116.7 415.0,118.0C417.3,119.3 419.7,121.8 422.0,124.0C424.3,126.2 426.6,128.6 428.6,131.5C430.6,134.4 431.9,137.8 434.0,141.5C436.1,145.2 439.0,150.0 441.0,154.0C443.0,158.0 444.4,161.5 446.0,165.5C447.6,169.5 448.8,173.2 450.8,178.0C452.8,182.8 455.8,189.3 458.0,194.0C460.2,198.7 462.0,202.3 464.0,206.0C466.0,209.7 468.0,213.2 470.0,216.0C472.0,218.8 474.0,220.8 476.0,222.5C478.0,224.2 480.0,225.2 482.0,226.0C484.0,226.8 486.2,226.9 488.0,227.0C489.8,227.1 491.4,226.7 493.0,226.5C494.6,226.3 496.8,226.1 497.5,226.0" stroke="#e8401f" stroke-width="6.1"/>
</g>
<g fill="#000">
<path d="M77.0,308.1l4.7,4.7l-4.7,4.7l-4.7,-4.7z"/>
<path d="M85.4,304.6l4.7,4.7l-4.7,4.7l-4.7,-4.7z"/>
<path d="M93.7,301.6l4.7,4.7l-4.7,4.7l-4.7,-4.7z"/>
<path d="M102.1,298.6l4.7,4.7l-4.7,4.7l-4.7,-4.7z"/>
<path d="M110.4,295.6l4.7,4.7l-4.7,4.7l-4.7,-4.7z"/>
<path d="M118.8,291.6l4.7,4.7l-4.7,4.7l-4.7,-4.7z"/>
<path d="M127.2,287.6l4.7,4.7l-4.7,4.7l-4.7,-4.7z"/>
<path d="M135.5,282.8l4.7,4.7l-4.7,4.7l-4.7,-4.7z"/>
<path d="M143.9,278.0l4.7,4.7l-4.7,4.7l-4.7,-4.7z"/>
<path d="M152.2,273.2l4.7,4.7l-4.7,4.7l-4.7,-4.7z"/>
<path d="M160.6,269.6l4.7,4.7l-4.7,4.7l-4.7,-4.7z"/>
<path d="M169.0,263.6l4.7,4.7l-4.7,4.7l-4.7,-4.7z"/>
<path d="M177.3,255.6l4.7,4.7l-4.7,4.7l-4.7,-4.7z"/>
<path d="M185.7,249.8l4.7,4.7l-4.7,4.7l-4.7,-4.7z"/>
<path d="M194.0,245.6l4.7,4.7l-4.7,4.7l-4.7,-4.7z"/>
<path d="M202.4,238.6l4.7,4.7l-4.7,4.7l-4.7,-4.7z"/>
<path d="M210.8,233.6l4.7,4.7l-4.7,4.7l-4.7,-4.7z"/>
<path d="M219.1,228.6l4.7,4.7l-4.7,4.7l-4.7,-4.7z"/>
<path d="M227.5,222.9l4.7,4.7l-4.7,4.7l-4.7,-4.7z"/>
<path d="M235.8,217.3l4.7,4.7l-4.7,4.7l-4.7,-4.7z"/>
<path d="M244.2,211.6l4.7,4.7l-4.7,4.7l-4.7,-4.7z"/>
<path d="M252.6,209.6l4.7,4.7l-4.7,4.7l-4.7,-4.7z"/>
<path d="M261.1,207.6l4.7,4.7l-4.7,4.7l-4.7,-4.7z"/>
<path d="M269.5,205.6l4.7,4.7l-4.7,4.7l-4.7,-4.7z"/>
<path d="M278.0,204.1l4.7,4.7l-4.7,4.7l-4.7,-4.7z"/>
<path d="M286.4,203.6l4.7,4.7l-4.7,4.7l-4.7,-4.7z"/>
<path d="M294.8,205.6l4.7,4.7l-4.7,4.7l-4.7,-4.7z"/>
<path d="M303.3,209.6l4.7,4.7l-4.7,4.7l-4.7,-4.7z"/>
<path d="M311.7,213.1l4.7,4.7l-4.7,4.7l-4.7,-4.7z"/>
<path d="M320.2,215.6l4.7,4.7l-4.7,4.7l-4.7,-4.7z"/>
<path d="M328.6,217.6l4.7,4.7l-4.7,4.7l-4.7,-4.7z"/>
<path d="M337.0,220.0l4.7,4.7l-4.7,4.7l-4.7,-4.7z"/>
<path d="M345.5,221.6l4.7,4.7l-4.7,4.7l-4.7,-4.7z"/>
<path d="M353.9,221.6l4.7,4.7l-4.7,4.7l-4.7,-4.7z"/>
<path d="M362.4,221.2l4.7,4.7l-4.7,4.7l-4.7,-4.7z"/>
<path d="M370.8,220.6l4.7,4.7l-4.7,4.7l-4.7,-4.7z"/>
<path d="M379.2,219.6l4.7,4.7l-4.7,4.7l-4.7,-4.7z"/>
<path d="M387.7,215.2l4.7,4.7l-4.7,4.7l-4.7,-4.7z"/>
<path d="M396.1,209.6l4.7,4.7l-4.7,4.7l-4.7,-4.7z"/>
<path d="M404.6,206.1l4.7,4.7l-4.7,4.7l-4.7,-4.7z"/>
<path d="M413.0,202.6l4.7,4.7l-4.7,4.7l-4.7,-4.7z"/>
<path d="M421.4,199.6l4.7,4.7l-4.7,4.7l-4.7,-4.7z"/>
<path d="M429.9,198.1l4.7,4.7l-4.7,4.7l-4.7,-4.7z"/>
<path d="M438.3,197.6l4.7,4.7l-4.7,4.7l-4.7,-4.7z"/>
<path d="M446.8,197.6l4.7,4.7l-4.7,4.7l-4.7,-4.7z"/>
<path d="M455.2,198.4l4.7,4.7l-4.7,4.7l-4.7,-4.7z"/>
<path d="M463.6,201.1l4.7,4.7l-4.7,4.7l-4.7,-4.7z"/>
<path d="M472.1,209.6l4.7,4.7l-4.7,4.7l-4.7,-4.7z"/>
<path d="M480.5,219.1l4.7,4.7l-4.7,4.7l-4.7,-4.7z"/>
<path d="M489.0,225.6l4.7,4.7l-4.7,4.7l-4.7,-4.7z"/>
</g>
<g font-size="17.5" text-anchor="end">
<text x="72.7" y="325.8">200</text>
<text x="72.7" y="221.1">400</text>
<text x="72.7" y="116.3">600</text>
<text x="72.7" y="11.6">800</text>
</g>
<g font-size="21.5" text-anchor="middle">
<text x="105.4" y="394">1</text>
<text x="244.8" y="394">1.5</text>
<text x="384.3" y="394">2</text>
</g>
<text x="287.5" y="417.5" font-size="25.5" text-anchor="middle">ω(eV)</text>
<g transform="translate(27.5,0) rotate(-90)" font-size="25.5">
<text transform="translate(-289.2,-4.2) scale(1,0.77)" x="0" y="0" stroke="#111" stroke-width="0.5">|</text>
<text x="-282.6" y="0" font-size="30">χ</text>
<text x="-269.6" y="-14.6" font-size="18.3">(2)</text>
<text x="-248.6" y="10" font-size="16.8">xyz</text>
<text x="-222.6" y="0">(</text>
<text x="-213.5" y="0" font-size="29">ω</text>
<text x="-197" y="0">)</text>
<text transform="translate(-188.3,1) scale(1,1.1)" x="0" y="0" stroke="#111" stroke-width="0.5">|</text>
<text x="-164.6" y="0" font-size="25.2">(pm/V)</text>
</g>
</svg></body></html>
